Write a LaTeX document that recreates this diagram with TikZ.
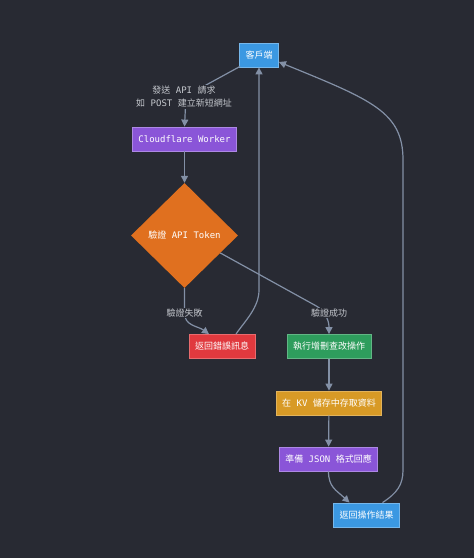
\documentclass[tikz,border=0pt]{standalone}
\usepackage{fontspec}
\setmainfont{Noto Sans CJK TC}
\setmonofont{DejaVu Sans Mono}
\usetikzlibrary{%
  arrows.meta,%
  shapes.geometric,% wg. diamond
  positioning%
}
\definecolor{bgdark}{HTML}{282A33}
\definecolor{edgegray}{HTML}{8390A6}
\definecolor{lblgray}{HTML}{C5C8CE}
\definecolor{clientblue}{HTML}{3B98E2}
\definecolor{workerpurple}{HTML}{8A55D8}
\definecolor{checkorange}{HTML}{E0701F}
\definecolor{errred}{HTML}{E0393E}
\definecolor{okgreen}{HTML}{2E9D5D}
\definecolor{kvamber}{HTML}{D89A26}

\begin{document}
\begin{tikzpicture}
  [
  x=1bp, y=-1bp, font=\fontsize{9bp}{13bp}\selectfont, >={Triangle[length=7bp,width=7bp]},
  box/.style={rectangle, minimum height=24bp, inner xsep=6bp, inner ysep=2bp, text=white, line width=0.8bp},
  check/.style={diamond, minimum width=107bp, minimum height=105bp, inner sep=0pt, text=white, fill=checkorange},
  flow/.style={->, draw=edgegray, line width=1.2bp},
  lbl/.style={fill=bgdark, text=lblgray, align=center, inner sep=1bp}
  ]

\fill[bgdark] (0,0) rectangle (474,558);

% nodes
\node[box, fill=clientblue, draw=clientblue!70!white] (client) at (259,55) {客戶端};
\node[box, fill=workerpurple, draw=workerpurple!70!white] (worker) at (184.5,139) {\texttt{Cloudflare Worker}};
\node[check] (check) at (184.5,235.5) {驗證\texttt{ API Token}};
\node[box, fill=errred, draw=errred!75!white] (error) at (222,346.5) {返回錯誤訊息};
\node[box, fill=okgreen, draw=okgreen!75!white] (crud) at (329,346.5) {執行增刪查改操作};
\node[box, fill=kvamber, draw=kvamber!75!white] (kv) at (329,403) {在\texttt{ KV }儲存中存取資料};
\node[box, fill=workerpurple, draw=workerpurple!70!white] (json) at (328.5,459) {準備\texttt{ JSON }格式回應};
\node[box, fill=clientblue, draw=clientblue!70!white] (result) at (366.5,515) {返回操作結果};

% bend points
\coordinate (sendpt) at (186,96);
\coordinate (failpt) at (184.5,313);
\coordinate (okpt) at (329,313);
\coordinate (retpt) at (259,290);
\coordinate (backpt) at (403,470);
\coordinate (toppt) at (403,160);

% connectors
\draw[flow, rounded corners=10bp] ([xshift=1bp,yshift=1bp]client.south west) -- (sendpt) -- (worker.north);
\draw[flow] (worker) -- (check);
\draw[flow] (check.south) -- (failpt) .. controls (184.5,326) and (198,326) .. ([xshift=-13bp]error.north);
\draw[flow, rounded corners=14bp] (check.-26) -- (okpt) -- (crud.north);
\draw[flow] ([xshift=14bp]error.north) .. controls (244,322) and (259,308) .. (retpt) -- (client.south);
\draw[flow] (crud) -- (kv);
\draw[flow] (kv) -- (json);
\draw[flow] (json.south) .. controls (328.5,487) and (336,490) .. ([xshift=-17bp]result.north);
\draw[flow] ([xshift=16bp]result.north) .. controls (397,493) and (403,485) .. (backpt) -- (toppt)
  .. controls (403,112) and (372,100) .. ([yshift=-7bp]client.east);

% labels
\node[lbl] (sendlbl) at (184,97) {發送\texttt{ API }請求\\如\texttt{ POST }建立新短網址};
\node[lbl] (faillbl) at (failpt) {驗證失敗};
\node[lbl] (oklbl) at (okpt) {驗證成功};

\end{tikzpicture}
\end{document}
